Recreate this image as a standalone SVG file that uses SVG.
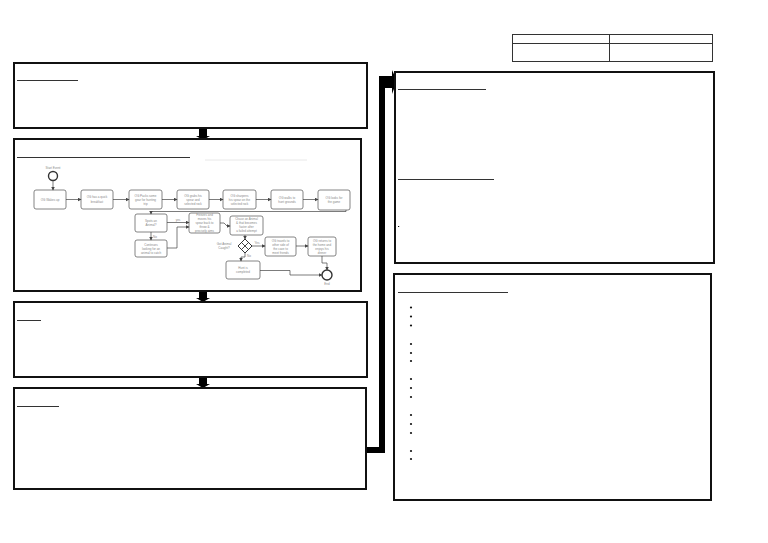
<svg xmlns="http://www.w3.org/2000/svg" width="768" height="543" viewBox="0 0 768 543">
<defs>
<style>
.panel{fill:#fff;stroke:#111;stroke-width:2}
.rule{stroke:#333;stroke-width:1}
.tbl{fill:none;stroke:#333;stroke-width:1}
.blk{fill:#000}
.fb{fill:#fff;stroke:#666;stroke-width:0.8}
.fl{fill:none;stroke:#444;stroke-width:0.7}
.ft{font-family:"Liberation Sans",Arial,sans-serif;font-size:3px;fill:#888;text-anchor:middle}
.bul{fill:#111}
</style>
<marker id="ah" markerWidth="4" markerHeight="4" refX="3.5" refY="2" orient="auto" markerUnits="userSpaceOnUse">
<path d="M0,0 L4,2 L0,4 Z" fill="#444"/>
</marker>
</defs>
<rect width="768" height="543" fill="#fff"/>

<g id="table">
<rect class="tbl" x="512.5" y="34.5" width="200" height="27"/>
<line class="tbl" x1="512.5" y1="43.5" x2="712.5" y2="43.5"/>
<line class="tbl" x1="609.5" y1="34.5" x2="609.5" y2="61.5"/>
</g>

<g id="connectors">
<path class="blk" d="M199 129 H207 V136 H210 L203 140 L196 136 H199 Z"/>
<path class="blk" d="M199 291 H207 V298 H210 L203 302 L196 298 H199 Z"/>
<path class="blk" d="M199 377 H207 V384 H210 L203 388 L196 384 H199 Z"/>
<rect class="blk" x="366" y="447" width="19" height="6"/>
<rect class="blk" x="379" y="76" width="6" height="377"/>
<rect class="blk" x="379" y="76" width="14" height="12"/>
<path class="blk" d="M392 70 L397 81 L392 94 Z"/>
</g>

<g id="panel1">
<rect class="panel" x="14" y="63" width="353" height="65"/>
<line class="rule" x1="17" y1="80.5" x2="78" y2="80.5"/>
</g>

<g id="panel2">
<rect class="panel" x="14" y="139" width="347" height="152"/>
<line class="rule" x1="17" y1="157.5" x2="190" y2="157.5"/>
<line x1="205" y1="160" x2="307" y2="160" stroke="#e2e2e2" stroke-width="0.8"/>
</g>

<g id="flowchart">
<g id="f-start">
<circle cx="53" cy="176" r="4.5" fill="#fff" stroke="#333" stroke-width="1.4"/>
<text class="ft" x="53" y="169">Start Event</text>
</g>
<g id="f-wake"><rect class="fb" x="34" y="190" width="32" height="19" rx="2"/><text class="ft" x="50" y="200.5">OG Wakes up</text></g>
<g id="f-breakfast"><rect class="fb" x="81" y="190" width="32" height="19" rx="2"/><text class="ft" x="97" y="198">OG has a quick</text><text class="ft" x="97" y="203">breakfast</text></g>
<g id="f-packs"><rect class="fb" x="129" y="190" width="33" height="19" rx="2"/><text class="ft" x="145.5" y="196.5">OG Packs some</text><text class="ft" x="145.5" y="200.5">gear for hunting</text><text class="ft" x="145.5" y="204.5">trip</text></g>
<g id="f-grabs"><rect class="fb" x="177" y="190" width="32" height="19" rx="2"/><text class="ft" x="193" y="196.5">OG grabs his</text><text class="ft" x="193" y="200.5">spear and</text><text class="ft" x="193" y="204.5">selected rock</text></g>
<g id="f-sharpens"><rect class="fb" x="223" y="190" width="33" height="19" rx="2"/><text class="ft" x="239.5" y="197">OG sharpens</text><text class="ft" x="239.5" y="201">his spear on the</text><text class="ft" x="239.5" y="205">selected rock</text></g>
<g id="f-walks"><rect class="fb" x="271" y="190" width="32" height="19" rx="2"/><text class="ft" x="287" y="198.5">OG walks to</text><text class="ft" x="287" y="202.5">hunt grounds</text></g>
<g id="f-looks"><rect class="fb" x="318" y="190" width="32" height="20" rx="2"/><text class="ft" x="334" y="199">OG looks for</text><text class="ft" x="334" y="203">the game</text></g>
<g id="f-spots"><rect class="fb" x="135" y="214" width="32" height="18" rx="2"/><text class="ft" x="151" y="222">Spots an</text><text class="ft" x="151" y="226">Animal?</text></g>
<g id="f-continues"><rect class="fb" x="135" y="240" width="32" height="17" rx="2"/><text class="ft" x="151" y="245.5">Continues</text><text class="ft" x="151" y="249.5">looking for an</text><text class="ft" x="151" y="253.5">animal to catch</text></g>
<g id="f-freezes"><rect class="fb" x="189" y="213" width="31" height="20" rx="2"/><text class="ft" x="204.5" y="216">Freezes and</text><text class="ft" x="204.5" y="220">moves his</text><text class="ft" x="204.5" y="224">spear back to</text><text class="ft" x="204.5" y="228">throw &amp;</text><text class="ft" x="204.5" y="232">precisely aims</text></g>
<g id="f-chase"><rect class="fb" x="230" y="216" width="33" height="19" rx="2"/><text class="ft" x="246.5" y="220">Chase an Animal</text><text class="ft" x="246.5" y="224">&amp; that becomes</text><text class="ft" x="246.5" y="228">faster after</text><text class="ft" x="246.5" y="232">a failed attempt</text></g>
<g id="f-gateway">
<path d="M245 239 L252 246 L245 253 L238 246 Z" fill="#fff" stroke="#333" stroke-width="1"/>
<path d="M242 243 L248 249 M248 243 L242 249" stroke="#333" stroke-width="0.9"/>
<text class="ft" x="224" y="245">Got Animal</text><text class="ft" x="224" y="249">Caught?</text>
</g>
<g id="f-travels"><rect class="fb" x="265" y="237" width="31" height="19" rx="2"/><text class="ft" x="280.5" y="242">OG travels to</text><text class="ft" x="280.5" y="246">other side of</text><text class="ft" x="280.5" y="250">the cave to</text><text class="ft" x="280.5" y="254">meet friends</text></g>
<g id="f-returns"><rect class="fb" x="308" y="237" width="28" height="19" rx="2"/><text class="ft" x="322" y="242">OG returns to</text><text class="ft" x="322" y="246">the home and</text><text class="ft" x="322" y="250">enjoys his</text><text class="ft" x="322" y="254">dinner</text></g>
<g id="f-hunt"><rect class="fb" x="226" y="261" width="34" height="18" rx="2"/><text class="ft" x="243" y="269">Hunt is</text><text class="ft" x="243" y="273">completed</text></g>
<g id="f-end">
<circle cx="327" cy="275" r="5" fill="#fff" stroke="#333" stroke-width="1.4"/>
<text class="ft" x="327" y="285">End</text>
</g>
</g>

<g id="flow-connectors">
<line class="fl" x1="53" y1="180.5" x2="53" y2="190" marker-end="url(#ah)"/>
<line class="fl" x1="66" y1="199.5" x2="81" y2="199.5" marker-end="url(#ah)"/>
<line class="fl" x1="113" y1="199.5" x2="129" y2="199.5" marker-end="url(#ah)"/>
<line class="fl" x1="162" y1="199.5" x2="177" y2="199.5" marker-end="url(#ah)"/>
<line class="fl" x1="209" y1="199.5" x2="223" y2="199.5" marker-end="url(#ah)"/>
<line class="fl" x1="256" y1="199.5" x2="271" y2="199.5" marker-end="url(#ah)"/>
<line class="fl" x1="303" y1="199.5" x2="318" y2="199.5" marker-end="url(#ah)"/>
<path class="fl" d="M346 210 V211.5 H151 V214" marker-end="url(#ah)"/>
<line class="fl" x1="151" y1="232" x2="151" y2="240" marker-end="url(#ah)"/>
<text class="ft" x="155" y="237.5">No</text>
<line class="fl" x1="167" y1="222.5" x2="189" y2="222.5" marker-end="url(#ah)"/>
<text class="ft" x="178" y="220.5">yes</text>
<path class="fl" d="M167 248 H177 V227 H189" marker-end="url(#ah)"/>
<path class="fl" d="M220 223 H224 L227 226 H230" marker-end="url(#ah)"/>
<line class="fl" x1="245" y1="235" x2="245" y2="239" marker-end="url(#ah)"/>
<line class="fl" x1="252" y1="246" x2="265" y2="246" marker-end="url(#ah)"/>
<text class="ft" x="257" y="244">Yes</text>
<path class="fl" d="M245 253 V257 H241 V261" marker-end="url(#ah)"/>
<text class="ft" x="249" y="257">No</text>
<line class="fl" x1="296" y1="246" x2="308" y2="246" marker-end="url(#ah)"/>
<path class="fl" d="M322 256 V263 H327 V270" marker-end="url(#ah)"/>
<path class="fl" d="M260 270.5 H290 V275 H322" marker-end="url(#ah)"/>
</g>

<g id="panel3">
<rect class="panel" x="14" y="302" width="353" height="75"/>
<line class="rule" x1="17" y1="320.5" x2="41" y2="320.5"/>
</g>

<g id="panel4">
<rect class="panel" x="14" y="388" width="352" height="101"/>
<line class="rule" x1="17" y1="406.5" x2="59" y2="406.5"/>
</g>

<g id="panel5">
<rect class="panel" x="395" y="72" width="319" height="191"/>
<line class="rule" x1="398" y1="89.5" x2="486" y2="89.5"/>
<line class="rule" x1="398" y1="179.5" x2="494" y2="179.5"/>
<rect x="398" y="226" width="1.2" height="1" fill="#111"/>
</g>

<g id="panel6">
<rect class="panel" x="394" y="274" width="317" height="226"/>
<line class="rule" x1="398" y1="292.5" x2="508" y2="292.5"/>
<g class="bul">
<circle cx="411" cy="307.5" r="1.1"/>
<circle cx="411" cy="316.5" r="1.1"/>
<circle cx="411" cy="325.5" r="1.1"/>
<circle cx="411" cy="344" r="1.1"/>
<circle cx="411" cy="353" r="1.1"/>
<circle cx="411" cy="361" r="1.1"/>
<circle cx="411" cy="379" r="1.1"/>
<circle cx="411" cy="388" r="1.1"/>
<circle cx="411" cy="397" r="1.1"/>
<circle cx="411" cy="415" r="1.1"/>
<circle cx="411" cy="424" r="1.1"/>
<circle cx="411" cy="433" r="1.1"/>
<circle cx="411" cy="451" r="1.1"/>
<circle cx="411" cy="459" r="1.1"/>
</g>
</g>
</svg>
